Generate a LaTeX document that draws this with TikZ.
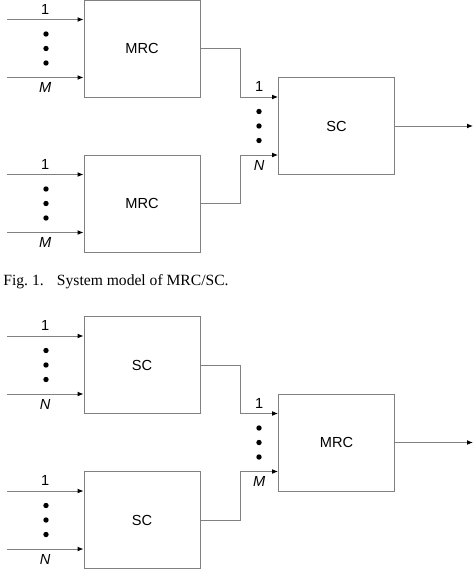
\documentclass[tikz,border=0pt]{standalone}
\usepackage{fontspec}
\setmainfont{Liberation Serif}
\setsansfont{Liberation Sans}
\usetikzlibrary{arrows.meta}

\begin{document}
\begin{tikzpicture}[x=0.5pt, y=-0.5pt,
    line/.style ={draw=black!50, line width=0.45pt},
    block/.style={rectangle, line, minimum width=58pt, minimum height=48.5pt,
                  inner sep=0pt, font=\fontsize{7.3}{8}\selectfont\sffamily},
    port/.style ={inner sep=2.4pt, font=\fontsize{7.3}{8}\selectfont\sffamily},
    arrow/.style={line, -{Latex[length=3pt,width=2.4pt,color=black]}},
    dot/.style  ={fill=black}
]
\useasboundingbox (0,0) rectangle (474,571);

\foreach \p/\dy/\inner/\outer/\ni/\no in {a/0pt/MRC/SC/M/N, b/-158.25pt/SC/MRC/N/M}{
  \begin{scope}[yshift=\dy]
  % first stage
  \node[block] (\p-L1) at (142,48.5) {\inner};
  \node[block] (\p-L2) at (142,203.5) {\inner};
  % second stage
  \node[block] (\p-R) at (336.5,126) {\outer};
  \coordinate (\p-out) at (473,126);

  \foreach \b/\y in {L1/48.5, L2/203.5}{
    \coordinate (\p-\b-1) at (7,{\y-29});
    \coordinate (\p-\b-n) at (7,{\y+29});
    \draw[arrow] (\p-\b-1) -- node[port, above]{1} (\p-\b-1 -| \p-\b.west);
    \draw[arrow] (\p-\b-n) -- node[port, below]{\textit{\ni}} (\p-\b-n -| \p-\b.west);
    \foreach \d in {-14.5,0,14.5}
      \fill[dot] (46,{\y+\d}) circle (1.35pt);
  }

  \draw[arrow] (\p-L1.east) -- ++(40,0)
      |- node[port, above, pos=0.75]{1} ([yshift=14.5pt]\p-R.west);
  \draw[arrow] (\p-L2.east) -- ++(40,0)
      |- node[port, below, pos=0.75]{\textit{\no}} ([yshift=-14.5pt]\p-R.west);
  \foreach \d in {-14.5,0,14.5}
    \fill[dot] (259,{126+\d}) circle (1.35pt);
  \draw[arrow] (\p-R.east) -- (\p-out);
  \end{scope}
}

\node[anchor=west, inner sep=0pt, font=\fontsize{7.8}{9}\selectfont] (caption) at (3,282)
    {Fig.~1.\hspace{0.85em}System model of MRC/SC.};
\end{tikzpicture}
\end{document}
